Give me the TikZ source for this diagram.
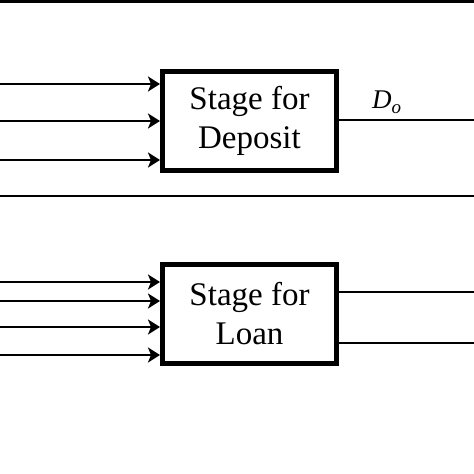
\documentclass[tikz,border=0pt]{standalone}
\usepackage{fontspec}
\setmainfont{Liberation Serif}
\usetikzlibrary{arrows.meta}

\begin{document}
\begin{tikzpicture}[x=1pt, y=-1pt,
    stagebox/.style={draw, line width=5pt, text=black, align=center, inner sep=0pt,
      minimum width=174pt, minimum height=99pt, font=\fontsize{33}{39}\selectfont},
    wire/.style={line width=2pt},
    feed/.style={wire, -{Stealth[length=12pt, width=15pt, inset=3pt]}},
    ]
  \useasboundingbox (0,0) rectangle (474,474);

  % frame edge at the top
  \draw[line width=3pt] (0,1.5) coordinate (topL) -- (474,1.5) coordinate (topR);

  % deposit stage
  \node[stagebox] (dep) at (249.5,121) {Stage for\\Deposit};
  \foreach \y [count=\i] in {84,121,160}
    \draw[feed] (0,\y) coordinate (din\i) -- (din\i -| dep.west);
  \coordinate (dout) at (474,120);
  \draw[wire] (dout -| dep.east) -- (dout);
  \node[font=\fontsize{27}{30}\selectfont\itshape, anchor=base west, inner sep=0pt] (dlabel) at (372,108)
    {D\raisebox{-5pt}{\fontsize{19}{20}\selectfont o}};

  % separator
  \draw[wire] (0,196) coordinate (sepL) -- (474,196) coordinate (sepR);

  % loan stage
  \node[stagebox] (loan) at (249.5,314) {Stage for\\Loan};
  \foreach \y [count=\i] in {282,301,327,355}
    \draw[feed] (0,\y) coordinate (lin\i) -- (lin\i -| loan.west);
  \foreach \y [count=\i] in {292,343}
    \draw[wire] (474,\y) coordinate (lout\i) (lout\i -| loan.east) -- (lout\i);
\end{tikzpicture}
\end{document}
